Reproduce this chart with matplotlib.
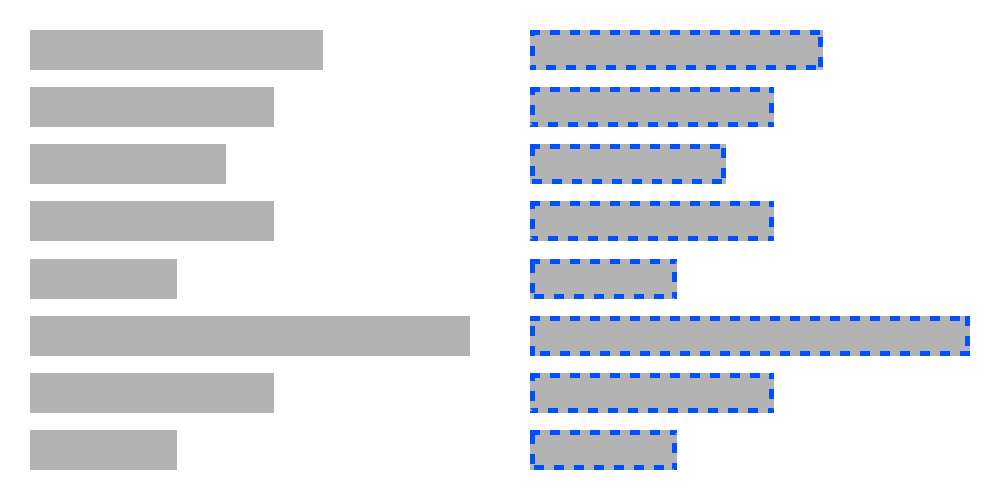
import matplotlib
matplotlib.use("Agg")
import matplotlib.pyplot as plt

categories = ["A", "B", "C", "D", "E", "F", "G", "H"]
values = [6, 5, 4, 5, 3, 9, 5, 3]

fig = plt.figure(figsize=(10, 5), dpi=100)
ax1 = fig.add_axes([0.03, 0.06, 0.44, 0.88])
ax2 = fig.add_axes([0.53, 0.06, 0.44, 0.88])

ypos = list(range(len(categories)))
ax1.barh(ypos, values, height=0.7, color="#b3b3b3", edgecolor="none")
bars = ax2.barh(ypos, values, height=0.7, color="#b3b3b3",
                edgecolor="#0050ff", linewidth=7.2, linestyle=(0, (1, 1)))
for p in bars:
    p.set_clip_path(p)

for ax in (ax1, ax2):
    ax.set_xlim(0, 9)
    ax.set_ylim(7.35, -0.35)
    ax.axis("off")

fig.savefig("out.png", dpi=100)
